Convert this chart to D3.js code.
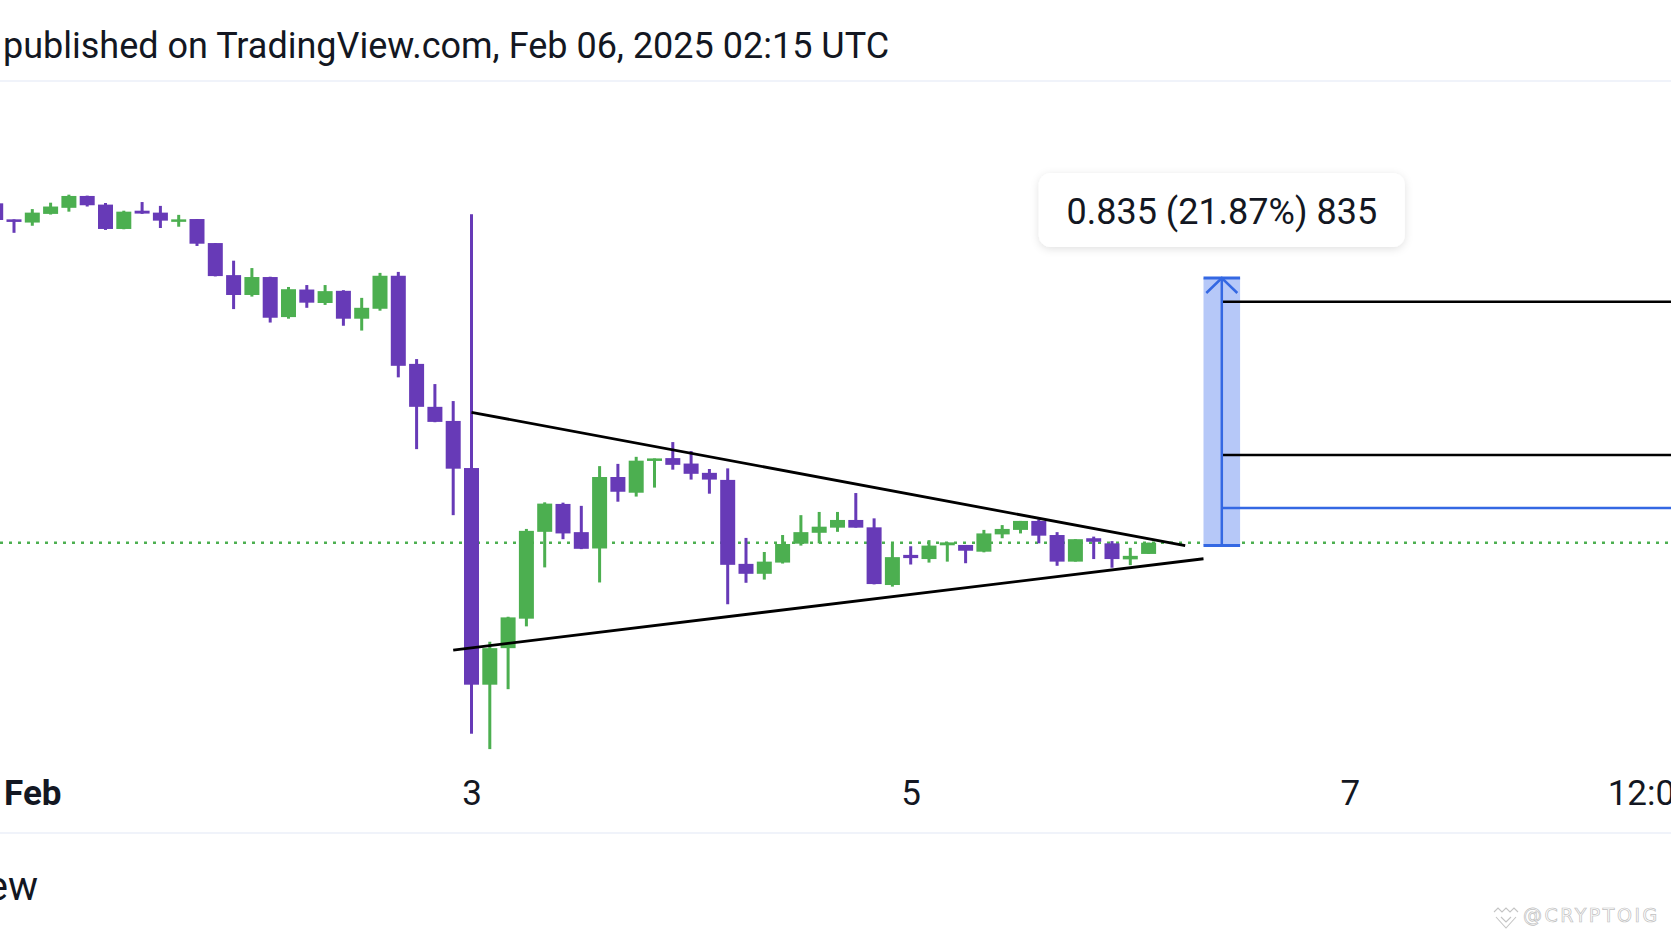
<!DOCTYPE html>
<html>
<head>
<meta charset="utf-8">
<script src="https://cdn.jsdelivr.net/npm/d3@7"></script>
<style>
  html, body { margin: 0; padding: 0; background: #fff; }
  svg { display: block; font-family: Roboto, 'Noto Sans', sans-serif; }
</style>
</head>
<body>
<div id="container"></div>
<script>
const width = 1671
const height = 939

// 2h candles, first one opens Jan 31 20:00 UTC
const firstCandle = Date.UTC(2025, 0, 31, 20)
const candleStep = 2 * 3600 * 1000

const opens = [
  4.886, 4.836, 4.826, 4.853, 4.872, 4.909, 4.882, 4.806, 4.863, 4.857, 4.829, 4.837,
  4.762, 4.662, 4.600, 4.656, 4.531, 4.617, 4.575, 4.613, 4.526, 4.557, 4.660, 4.385,
  4.251, 4.207, 4.060, 3.384, 3.498, 3.590, 3.861, 3.948, 3.860, 3.809, 4.032, 3.983,
  4.083, 4.091, 4.074, 4.045, 4.023, 3.761, 3.730, 3.765, 3.824, 3.858, 3.874, 3.898,
  3.875, 3.695, 3.789, 3.776, 3.819, 3.820, 3.799, 3.853, 3.867, 3.895, 3.851, 3.768,
  3.841, 3.825, 3.775, 3.792
]
const highs = [
  4.889, 4.836, 4.868, 4.888, 4.913, 4.910, 4.887, 4.863, 4.890, 4.878, 4.850, 4.837,
  4.762, 4.707, 4.684, 4.657, 4.625, 4.631, 4.631, 4.615, 4.591, 4.669, 4.672, 4.400,
  4.322, 4.269, 4.852, 3.518, 3.596, 3.870, 3.953, 3.952, 3.942, 4.066, 4.073, 4.095,
  4.090, 4.141, 4.113, 4.057, 4.059, 3.842, 3.798, 3.851, 3.913, 3.923, 3.923, 3.982,
  3.903, 3.823, 3.816, 3.835, 3.828, 3.820, 3.867, 3.882, 3.895, 3.900, 3.860, 3.838,
  3.846, 3.832, 3.811, 3.827
]
const lows = [
  4.828, 4.794, 4.816, 4.851, 4.860, 4.876, 4.803, 4.805, 4.853, 4.809, 4.813, 4.753,
  4.658, 4.556, 4.595, 4.514, 4.526, 4.560, 4.569, 4.504, 4.489, 4.551, 4.343, 4.119,
  4.203, 3.913, 3.231, 3.183, 3.370, 3.566, 3.750, 3.838, 3.807, 3.703, 3.955, 3.971,
  3.999, 4.055, 4.024, 3.980, 3.635, 3.702, 3.712, 3.762, 3.818, 3.825, 3.861, 3.874,
  3.697, 3.690, 3.759, 3.765, 3.768, 3.763, 3.797, 3.841, 3.856, 3.825, 3.755, 3.768,
  3.776, 3.749, 3.757, 3.792
]
const closes = [
  4.834, 4.828, 4.857, 4.876, 4.909, 4.880, 4.806, 4.860, 4.854, 4.832, 4.836, 4.760,
  4.659, 4.600, 4.656, 4.529, 4.618, 4.576, 4.612, 4.526, 4.560, 4.660, 4.379, 4.251,
  4.204, 4.058, 3.384, 3.498, 3.594, 3.864, 3.949, 3.856, 3.808, 4.032, 3.986, 4.083,
  4.090, 4.070, 4.042, 4.024, 3.758, 3.730, 3.768, 3.823, 3.860, 3.877, 3.898, 3.874,
  3.698, 3.782, 3.779, 3.818, 3.828, 3.802, 3.856, 3.870, 3.895, 3.849, 3.768, 3.838,
  3.830, 3.776, 3.786, 3.827
]

// triangle drawn on the chart: [time, price]
const upperLine = [[Date.UTC(2025, 1, 3, 0), 4.234], [Date.UTC(2025, 1, 6, 6), 3.818]]
const lowerLine = [[Date.UTC(2025, 1, 2, 22), 3.492], [Date.UTC(2025, 1, 6, 8), 3.777]]

// measure tool
const measureFrom = 3.818
const measureTo = 4.653
const measureTimes = [Date.UTC(2025, 1, 6, 8), Date.UTC(2025, 1, 6, 10), Date.UTC(2025, 1, 6, 12)]
const blackLevels = [4.579, 4.101]
const blueLevels = [3.935]

// time axis
const tickDates = [Date.UTC(2025, 1, 1), Date.UTC(2025, 1, 3), Date.UTC(2025, 1, 5), Date.UTC(2025, 1, 7), Date.UTC(2025, 1, 8, 12)]
const tickLabels = ['Feb', '3', '5', '7', '12:00']

const headerText = 'published on TradingView.com, Feb 06, 2025 02:15 UTC'

const purple = '#673ab7'
const green = '#4caf50'
const blue = '#3468e3'
const ink = '#131722'

const candles = opens.map((o, i) => ({
  t: firstCandle + i * candleStep,
  o: o, h: highs[i], l: lows[i], c: closes[i]
}))

const x = d3.scaleUtc()
  .domain([Date.UTC(2025, 1, 1), Date.UTC(2025, 1, 7)])
  .range([32.3, 1349.9])
const y = d3.scaleLinear()
  .domain([measureFrom, measureTo])
  .range([545.6, 278])

const svg = d3.select('#container').append('svg')
  .attr('width', width)
  .attr('height', height)

const defs = svg.append('defs')
const shadow = defs.append('filter').attr('id', 'shadow')
  .attr('x', '-20%').attr('y', '-40%').attr('width', '140%').attr('height', '180%')
shadow.append('feDropShadow')
  .attr('dx', 0).attr('dy', 2).attr('stdDeviation', 4)
  .attr('flood-color', '#000').attr('flood-opacity', 0.12)

// header
svg.append('text')
  .attr('x', 3).attr('y', 58)
  .attr('font-size', 36).attr('fill', ink)
  .text(headerText)
svg.append('line')
  .attr('x1', 0).attr('x2', width).attr('y1', 81).attr('y2', 81)
  .attr('stroke', '#f0f3fa').attr('stroke-width', 2)

// last price line
const last = candles[candles.length - 1]
svg.append('line')
  .attr('x1', 0).attr('x2', width)
  .attr('y1', y(last.c)).attr('y2', y(last.c))
  .attr('stroke', green).attr('stroke-width', 2.5)
  .attr('stroke-dasharray', '3 6')

// candles
const bodyW = 15
const g = svg.append('g')
const candle = g.selectAll('.candle')
  .data(candles)
  .enter()
  .append('g')
  .attr('class', 'candle')
  .attr('fill', d => d.c >= d.o ? green : purple)

candle.append('rect')
  .attr('x', d => x(d.t) - 1.5)
  .attr('width', 3)
  .attr('y', d => y(d.h))
  .attr('height', d => Math.max(1, y(d.l) - y(d.h)))
candle.append('rect')
  .attr('x', d => x(d.t) - bodyW / 2)
  .attr('width', bodyW)
  .attr('y', d => y(Math.max(d.o, d.c)))
  .attr('height', d => Math.max(2.5, Math.abs(y(d.o) - y(d.c))))

// triangle
const trend = d3.line().x(d => x(d[0])).y(d => y(d[1]))
;[upperLine, lowerLine].forEach(pts => {
  svg.append('path')
    .attr('d', trend(pts))
    .attr('fill', 'none')
    .attr('stroke', '#000')
    .attr('stroke-width', 2.8)
})

// measure tool
const mx0 = x(measureTimes[0])
const mxc = x(measureTimes[1])
const mx1 = x(measureTimes[2])
const mTop = y(measureTo)
const mBottom = y(measureFrom)

svg.append('rect')
  .attr('x', mx0).attr('y', mTop)
  .attr('width', mx1 - mx0).attr('height', mBottom - mTop)
  .attr('fill', '#b6c8f8')

blackLevels.forEach(p => {
  svg.append('line')
    .attr('x1', mxc).attr('x2', width)
    .attr('y1', y(p)).attr('y2', y(p))
    .attr('stroke', '#000').attr('stroke-width', 2.5)
})
blueLevels.forEach(p => {
  svg.append('line')
    .attr('x1', mxc).attr('x2', width)
    .attr('y1', y(p)).attr('y2', y(p))
    .attr('stroke', blue).attr('stroke-width', 2.5)
})

svg.append('line')
  .attr('x1', mxc).attr('x2', mxc).attr('y1', mTop).attr('y2', mBottom)
  .attr('stroke', blue).attr('stroke-width', 2.5)
;[mTop, mBottom].forEach(yy => {
  svg.append('line')
    .attr('x1', mx0).attr('x2', mx1).attr('y1', yy).attr('y2', yy)
    .attr('stroke', blue).attr('stroke-width', 3)
})
svg.append('path')
  .attr('d', `M${mxc - 15.5},${mTop + 15}L${mxc},${mTop}L${mxc + 15.5},${mTop + 15}`)
  .attr('fill', 'none').attr('stroke', blue).attr('stroke-width', 2.5)

const diff = measureTo - measureFrom
const label = `${diff.toFixed(3)} (${(diff / measureFrom * 100).toFixed(2)}%) ${Math.round(diff * 1000)}`
svg.append('rect')
  .attr('x', mxc - 183).attr('y', mTop - 105)
  .attr('width', 366).attr('height', 74)
  .attr('rx', 12)
  .attr('fill', '#fff')
  .attr('filter', 'url(#shadow)')
svg.append('text')
  .attr('x', mxc).attr('y', mTop - 54)
  .attr('text-anchor', 'middle')
  .attr('font-size', 36).attr('fill', ink)
  .text(label)

// time axis
const axis = d3.axisBottom(x)
  .tickValues(tickDates)
  .tickFormat((d, i) => tickLabels[i])
  .tickSize(0)
const axisG = svg.append('g')
  .attr('transform', 'translate(0,805)')
  .call(axis)
axisG.select('.domain').remove()
axisG.selectAll('text')
  .attr('y', 0).attr('dy', 0)
  .attr('font-size', 35)
  .attr('font-family', 'Roboto, sans-serif')
  .attr('fill', ink)
  .attr('font-weight', (d, i) => i === 0 ? 700 : 400)
  .attr('text-anchor', (d, i) => i === tickLabels.length - 1 ? 'end' : 'middle')
  .attr('dx', (d, i) => i === tickLabels.length - 1 ? 15 : 0)

svg.append('line')
  .attr('x1', 0).attr('x2', width).attr('y1', 833).attr('y2', 833)
  .attr('stroke', '#f0f3fa').attr('stroke-width', 2)

// footer
svg.append('text')
  .attr('x', 38).attr('y', 900)
  .attr('text-anchor', 'end')
  .attr('font-size', 40).attr('fill', ink)
  .text('TradingView')

const wm = svg.append('g').attr('transform', 'translate(1493,922)')
wm.append('path')
  .attr('d', 'M1,-10L5,-14L9,-10L13,-14L17,-10L21,-14L25,-10 M3,-5L13,6L23,-5 M8,-5L13,0L18,-5')
  .attr('fill', 'none').attr('stroke', '#c4c4c4').attr('stroke-width', 1.1)
wm.append('text')
  .attr('x', 30).attr('y', 0)
  .attr('font-size', 19)
  .attr('font-family', "'DejaVu Sans', sans-serif")
  .attr('letter-spacing', 2.5)
  .attr('fill', '#fff').attr('stroke', '#c0c0c0').attr('stroke-width', 0.7)
  .text('@CRYPTOIG')
</script>
</body>
</html>
